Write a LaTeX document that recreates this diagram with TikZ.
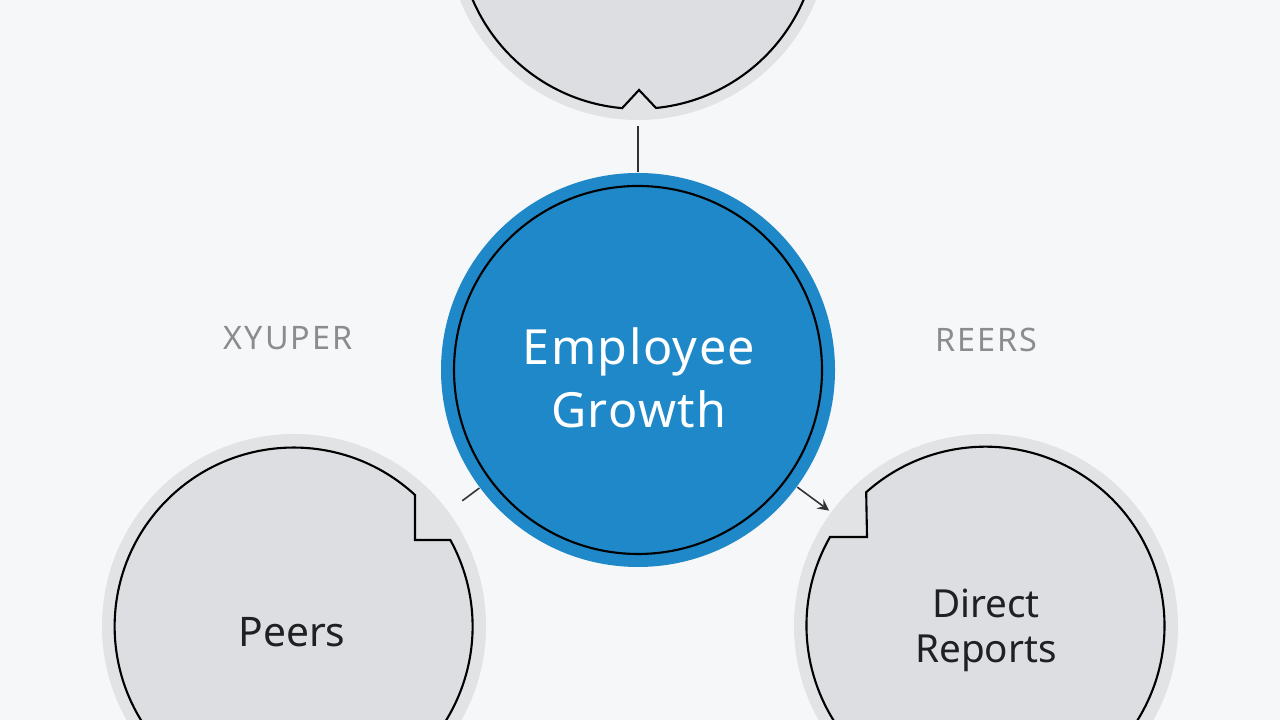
\documentclass[tikz,border=0pt]{standalone}
\usepackage{fontspec}
\setmainfont{Noto Sans}
\usetikzlibrary{arrows,calc,positioning}

\definecolor{hubblue}{HTML}{1E88C8}
\definecolor{ringgray}{HTML}{E2E3E5}
\definecolor{discgray}{HTML}{DCDEE1}
\definecolor{pagebg}{HTML}{F6F7F8}
\definecolor{labelgray}{HTML}{8A8C8E}
\definecolor{textdark}{HTML}{1E2022}

\begin{document}
\begin{tikzpicture}[auto]
      \tikzset{
	  hub/.style={circle, fill=hubblue, minimum size=3.94cm, inner sep=0pt},
	  ring/.style={circle, fill=ringgray, minimum size=3.84cm, inner sep=0pt},
	  rim/.style={draw=black, line width=0.6pt, fill=discgray},
	  hubtext/.style={text=white, align=center, font=\fontsize{13.8}{17.9}\selectfont\addfontfeature{LetterSpace=3}},
	  disctext/.style={text=textdark, align=center, font=\fontsize{11.6}{12.8}\selectfont},
	  side/.style={text=labelgray, font=\fontsize{9.2}{10}\selectfont\addfontfeature{LetterSpace=6}},
	  link/.style={draw=black!80, line width=0.45pt}
      }
      \fill[pagebg] (0,0) rectangle (12.8,7.2);
      \useasboundingbox (0,0) rectangle (12.8,7.2);

      \node at (6.38, 3.50) [hub] (hub) {};
      \draw[black, line width=0.6pt] (hub.center) circle (1.84);

      \node at (6.38, 7.92) [ring] (top) {};
      \draw[rim] (6.56,6.12) arc[start angle=-84.3, end angle=264.9, radius=1.80] -- (6.39,6.30) -- cycle;

      \node at (2.94, 0.94) [ring] (peers) {};
      \draw[rim] (4.15,2.25) arc[start angle=47.3, end angle=388.9, radius=1.79] -- (4.15,1.80) -- cycle;

      \node at (9.86, 0.94) [ring] (reports) {};
      \draw[rim] (8.30,1.83) arc[start angle=150.3, end angle=491.8, radius=1.79] -- (8.67,1.83) -- cycle;

      \draw[link, shorten <=0.05cm] (top) -- (hub);
      \draw[link, shorten >=0.17cm] (hub) -- (peers);
      \draw[link, -stealth, shorten >=0.02cm] (hub) -- (reports);

      \node at (6.39, 3.425) [hubtext] (growth) {Employee\\Growth};
      \node at (2.92, 0.88) [disctext] (peerslabel) {Peers};
      \node at (9.86, 0.895) [disctext, font=\fontsize{11}{12.8}\selectfont] (reportslabel) {Direct\\Reports};
      \node at (2.88, 3.82) [side] (leftlabel) {XYUPER};
      \node at (9.86, 3.80) [side] (rightlabel) {REERS};
    \end{tikzpicture}
\end{document}
